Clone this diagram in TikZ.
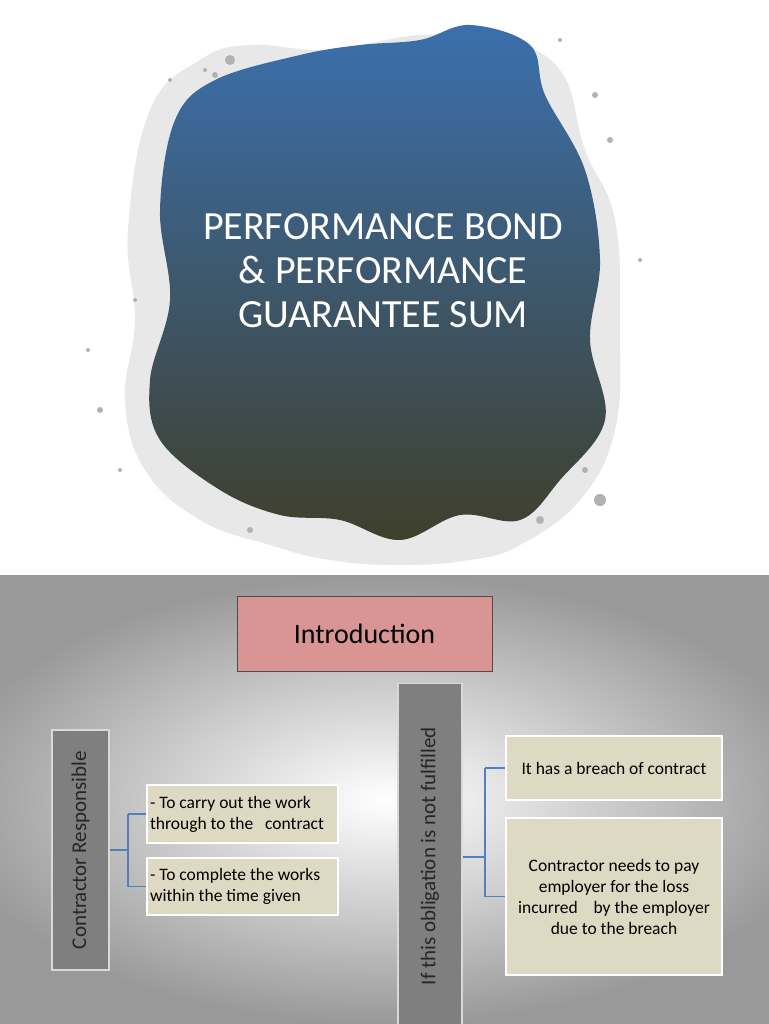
\documentclass[tikz,border=0pt]{standalone}
\usepackage{fontspec}
\setmainfont{Carlito}
\usetikzlibrary{shadings}
\definecolor{blobtop}{HTML}{3B70AD}
\definecolor{blobbot}{HTML}{3F3F2C}
\definecolor{introfill}{HTML}{D99594}
\definecolor{itemfill}{HTML}{DDD9C3}
\definecolor{vgray}{HTML}{7F7F7F}
\definecolor{conn}{HTML}{4F81BD}
\tikzset{
  itembox/.style={draw=white, line width=1.5pt, fill=itemfill, font=\fontsize{17.5}{21}\selectfont, inner sep=2pt},
  vbox/.style={draw=white!85!black, line width=1.5pt, fill=vgray, font=\fontsize{21}{25}\selectfont, text=black!85},
  link/.style={draw=conn, line width=1.2pt}
}
\begin{document}
\begin{tikzpicture}[x=1pt,y=-1pt]
\useasboundingbox (0,0) rectangle (768,1024);
\fill[white] (0,0) rectangle (768,575);
% splatter
\fill[gray!18] plot[smooth cycle, tension=0.7] coordinates {(150,110)(200,60)(250,45)(330,50)(420,35)(500,40)(560,70)(585,150)(615,220)(620,330)(615,430)(580,500)(520,545)(470,560)(400,565)(330,560)(270,545)(200,520)(145,470)(125,400)(135,320)(128,230)};
\foreach \x/\y/\r in {230/60/5,215/75/3,205/70/2,595/95/3,610/140/3,100/410/3,88/350/2,120/470/2,600/500/6,585/470/3,170/80/2,640/260/2,560/40/2,540/520/4,250/530/3,135/300/2}
  \fill[gray!60] (\x,\y) circle (\r);
\shade[top color=blobtop, bottom color=blobbot]
  plot[smooth cycle, tension=0.6] coordinates {(175,120)(215,80)(300,55)(360,45)(420,40)(470,25)(530,45)(545,95)(585,170)(600,260)(590,340)(605,420)(560,480)(520,520)(460,515)(400,540)(340,520)(280,515)(220,490)(160,440)(150,380)(170,300)(160,210)};
\node[text=white, align=center, font=\fontsize{40}{44}\selectfont] (title) at (383,271) {PERFORMANCE BOND\\ \& PERFORMANCE\\ GUARANTEE SUM};
% bottom slide
\shade[inner color=white, outer color=gray!80] (-60,575) rectangle (828,1024);
\node[draw=black!70, line width=1pt, fill=introfill, minimum width=255pt, minimum height=75pt, font=\fontsize{28}{32}\selectfont] (intro) at (364.5,633.5) {Introduction};
\node[vbox, minimum width=240pt, minimum height=57pt, rotate=90] (cr) at (80.5,850) {Contractor Responsible};
\node[itembox, minimum width=191pt, minimum height=58pt, text width=185pt, align=flush left] (i1) at (242.5,814) {- To carry out the work\\through to the \ \ contract};
\node[itembox, minimum width=191pt, minimum height=57pt, text width=185pt, align=flush left] (i2) at (242.5,886.5) {- To complete the works\\within the time given};
\node[vbox, minimum width=345pt, minimum height=64pt, rotate=90] (ob) at (430,856) {If this obligation is not fulfilled};
\node[itembox, minimum width=216pt, minimum height=64pt, align=center] (i3) at (614,768) {It has a breach of contract};
\node[itembox, minimum width=216pt, minimum height=157pt, align=center] (i4) at (614,896.5) {Contractor needs to pay\\employer for the loss\\incurred \ \ \ by the employer\\due to the breach};
\coordinate (lj) at (128,850);
\coordinate (rj) at (485,857);
\draw[link] (cr.south |- lj) -- (lj);
\draw[link] (lj |- i1.west) -- (lj |- i2.west);
\draw[link] (lj |- i1.west) -- (i1.west);
\draw[link] (lj |- i2.west) -- (i2.west);
\draw[link] (ob.south |- rj) -- (rj);
\draw[link] (rj |- i3.west) -- (rj |- i4.west);
\draw[link] (rj |- i3.west) -- (i3.west);
\draw[link] (rj |- i4.west) -- (i4.west);
\end{tikzpicture}
\end{document}
